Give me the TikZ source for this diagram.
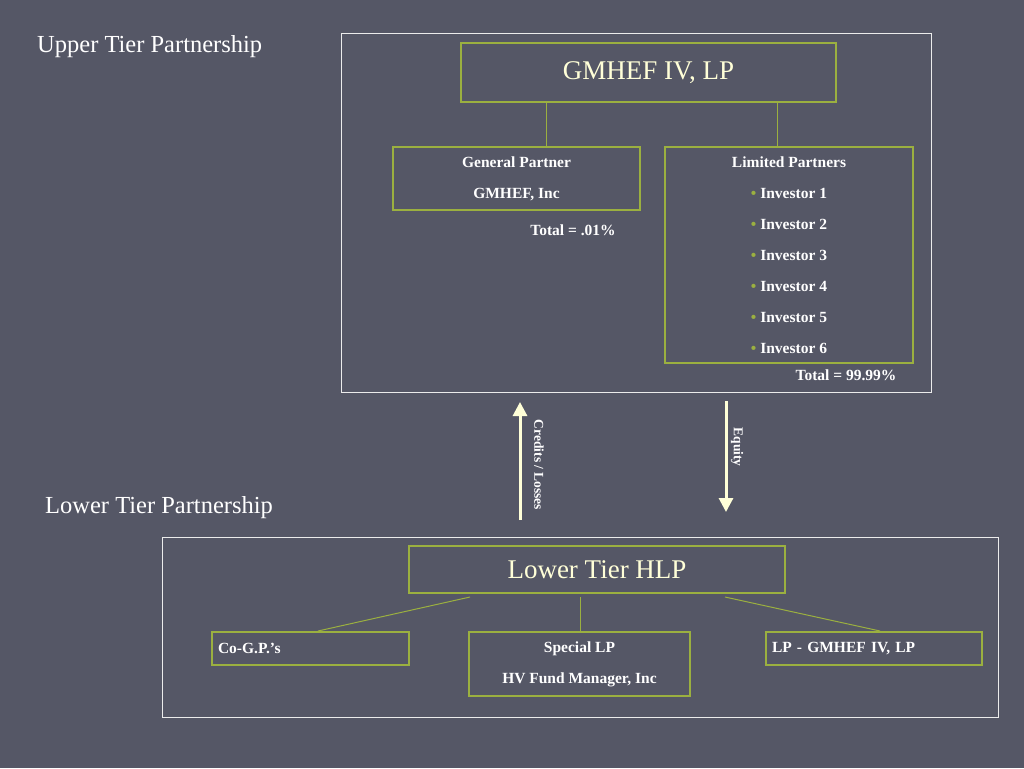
\documentclass[tikz,border=0pt]{standalone}
\usepackage{fontspec}
\setmainfont{Liberation Serif}
\usetikzlibrary{arrows.meta}
\definecolor{bgc}{HTML}{555766}
\definecolor{boxg}{HTML}{9BB040}
\definecolor{cream}{HTML}{FFFFD8}
\tikzset{
  frame/.style={draw=white!85!gray, line width=1pt},
  gbox/.style={draw=boxg, line width=2pt, inner sep=0pt},
  small/.style={text=white, font=\bfseries\fontsize{15.5}{31}\selectfont, align=center},
  big/.style={text=cream, font=\fontsize{27}{30}\selectfont},
  link/.style={draw=boxg, line width=1pt},
  flow/.style={draw=cream, line width=3pt, -{Triangle[length=14pt,width=14pt]}},
}
\begin{document}
\begin{tikzpicture}[x=1pt,y=-1pt]
  \fill[bgc] (0,0) rectangle (1024,768);
  \useasboundingbox (0,0) rectangle (1024,768);

  % upper tier
  \node[anchor=west, inner sep=0pt, text=white, font=\fontsize{24.5}{28}\selectfont] (ut) at (37,47) {Upper Tier Partnership};
  \draw[frame] (341,34) rectangle (931,392);
  \node[gbox, big, minimum width=375, minimum height=59] (fund) at (648.5,72.5) {GMHEF IV, LP};
  \node[gbox, small, minimum width=247, minimum height=63, anchor=north] (gp) at (516.5,146)
    {General Partner\\GMHEF, Inc};
  \node[gbox, small, minimum width=248, minimum height=216, anchor=north] (lp) at (789,146)
    {Limited Partners\\
     \textcolor{boxg}{\textbullet} Investor 1\\
     \textcolor{boxg}{\textbullet} Investor 2\\
     \textcolor{boxg}{\textbullet} Investor 3\\
     \textcolor{boxg}{\textbullet} Investor 4\\
     \textcolor{boxg}{\textbullet} Investor 5\\
     \textcolor{boxg}{\textbullet} Investor 6};
  \node[small] (gptot) at (573,230) {Total = .01\%};
  \node[small] (lptot) at (846,375) {Total = 99.99\%};
  \coordinate (fgp) at (546,102);
  \coordinate (flp) at (777,102);
  \draw[link] (fgp) -- (fgp |- gp.north);
  \draw[link] (flp) -- (flp |- lp.north);

  % flows between tiers
  \coordinate (cl0) at (520,520);
  \coordinate (cl1) at (520,402);
  \coordinate (eq0) at (726,401);
  \coordinate (eq1) at (726,512);
  \draw[flow] (cl0) -- (cl1);
  \draw[flow] (eq0) -- (eq1);
  \node[rotate=-90, text=white, font=\bfseries\fontsize{13.5}{15}\selectfont] (cred) at (539,465) {Credits / Losses};
  \node[rotate=-90, text=white, font=\bfseries\fontsize{13.5}{15}\selectfont] (eqty) at (737,447) {Equity};

  % lower tier
  \node[anchor=west, inner sep=0pt, text=white, font=\fontsize{24.5}{28}\selectfont] (lt) at (45,508) {Lower Tier Partnership};
  \draw[frame] (162,537) rectangle (998,717);
  \node[gbox, big, minimum width=376, minimum height=47] (hlp) at (597,569.5) {Lower Tier HLP};
  \node[gbox, small, minimum width=197, minimum height=33, anchor=north, text width=185, align=left] (cogp) at (310.5,631) {Co-G.P.'s};
  \node[gbox, small, minimum width=221, minimum height=64, anchor=north] (slp) at (579.5,631)
    {Special LP\\HV Fund Manager, Inc};
  \node[gbox, small, minimum width=216, minimum height=33, anchor=north, text width=204, align=left] (lpg) at (874,631) {LP - GMHEF IV, LP};
  \coordinate (h1) at (470,597);
  \coordinate (h2) at (580,597);
  \coordinate (h3) at (725,597);
  \draw[link] (h1) -- (318,631);
  \draw[link] (h2) -- (h2 |- slp.north);
  \draw[link] (h3) -- (880,631);
\end{tikzpicture}
\end{document}
